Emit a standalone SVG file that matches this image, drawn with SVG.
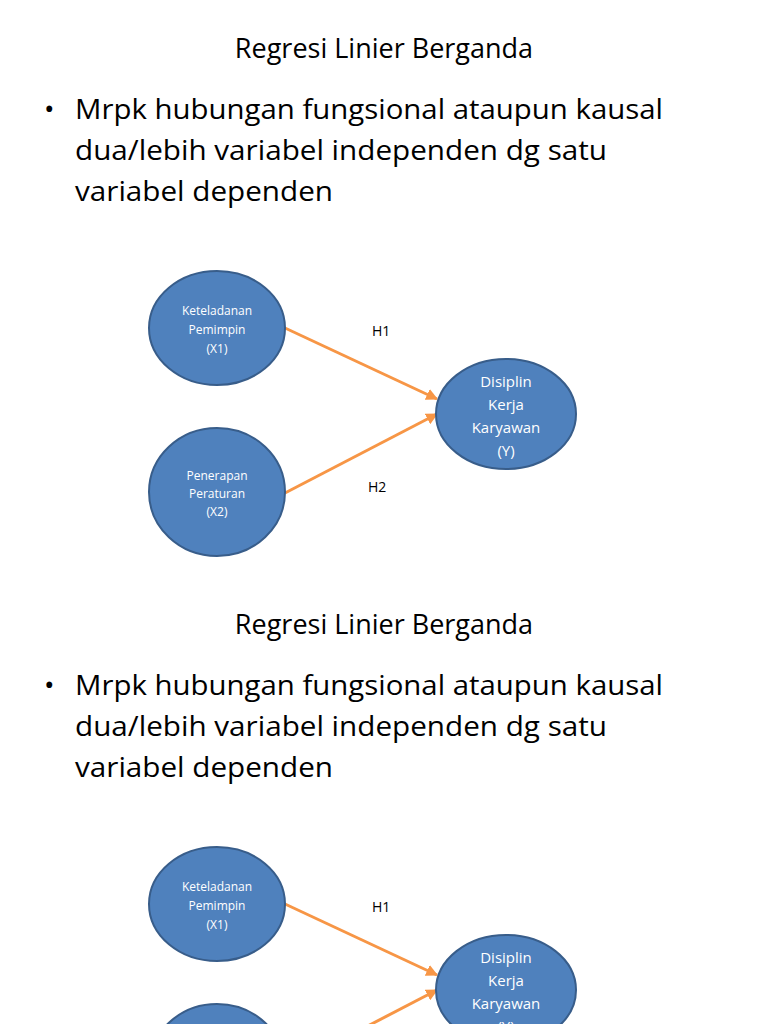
<svg xmlns="http://www.w3.org/2000/svg" width="768" height="1024" viewBox="0 0 768 1024">
<defs>
<style>
.t{font-family:"Open Sans","DejaVu Sans",sans-serif;fill:#000}
.title{font-size:27px}
.b{font-size:28px}
.n{fill:#4F81BD;stroke:#385D8A;stroke-width:2}
.s{font-family:"Open Sans","DejaVu Sans",sans-serif;font-size:12px;fill:#fff}
.l{font-family:"Open Sans","DejaVu Sans",sans-serif;font-size:15px;fill:#fff}
.c{stroke:#F79646;stroke-width:3;fill:none;marker-end:url(#a)}
.h{font-family:"Open Sans","DejaVu Sans",sans-serif;font-size:14px;fill:#000}
</style>
<marker id="a" viewBox="0 0 10 10" refX="9" refY="5" markerWidth="4" markerHeight="4" orient="auto"><path d="M0,0L10,5L0,10z" fill="#F79646"/></marker>
</defs>
<g id="slide">
<text class="t title" x="384" y="58" text-anchor="middle">Regresi Linier Berganda</text>
<text class="t b" x="44" y="119">•</text>
<text class="t b" x="75" y="119" textLength="588" lengthAdjust="spacingAndGlyphs">Mrpk hubungan fungsional ataupun kausal</text>
<text class="t b" x="75" y="160" textLength="532" lengthAdjust="spacingAndGlyphs">dua/lebih variabel independen dg satu</text>
<text class="t b" x="75" y="201" textLength="258" lengthAdjust="spacingAndGlyphs">variabel dependen</text>
<g id="connectors">
<line class="c" x1="285" y1="328" x2="437" y2="399"/>
<line class="c" x1="285" y1="493" x2="437" y2="414"/>
<text class="h" x="372" y="336">H1</text>
<text class="h" x="368" y="492">H2</text>
</g>
<g id="x1"><ellipse class="n" cx="217" cy="328" rx="68" ry="57"/>
<text class="s" text-anchor="middle"><tspan x="217" y="315">Keteladanan</tspan><tspan x="217" y="334">Pemimpin</tspan><tspan x="217" y="353">(X1)</tspan></text></g>
<g id="x2"><ellipse class="n" cx="217" cy="492" rx="68" ry="64"/>
<text class="s" text-anchor="middle"><tspan x="217" y="480">Penerapan</tspan><tspan x="217" y="498">Peraturan</tspan><tspan x="217" y="516">(X2)</tspan></text></g>
<g id="y"><ellipse class="n" cx="506" cy="414" rx="70" ry="55"/>
<text class="l" text-anchor="middle"><tspan x="506" y="387">Disiplin</tspan><tspan x="506" y="410">Kerja</tspan><tspan x="506" y="433">Karyawan</tspan><tspan x="506" y="456">(Y)</tspan></text></g>
</g>
<use href="#slide" y="576"/>
</svg>
